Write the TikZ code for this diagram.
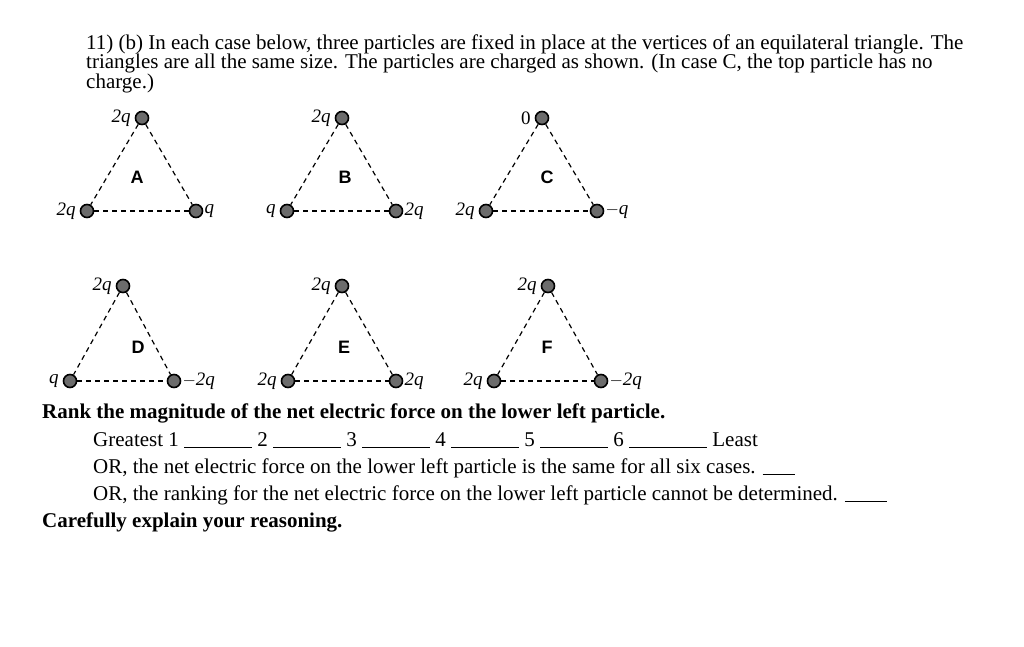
\documentclass[tikz,border=0pt]{standalone}
\usepackage{fontspec}
\setmainfont{Liberation Serif}
\setsansfont{Liberation Sans}
\begin{document}
\begin{tikzpicture}[x=1pt,y=-1pt,
  txt/.style={anchor=base west,inner sep=0pt,font=\fontsize{21}{20}\selectfont},
  chg/.style={inner sep=1pt,font=\fontsize{19}{19}\selectfont\itshape},
  lab/.style={font=\fontsize{18}{18}\selectfont\sffamily\bfseries},
  pt/.style={circle,draw=black,fill=gray!85!black,minimum size=13pt,inner sep=0pt,line width=1.6pt},
  edge/.style={line width=1.2pt,dash pattern=on 5pt off 4pt}]
\useasboundingbox (0,0) rectangle (1024,647);
\newcommand{\blank}[1]{\rule[-2pt]{#1pt}{1pt}}
\node[txt] (h1) at (86,50) {11) (b) In each case below, three particles are fixed in place at the vertices of an equilateral triangle. The};
\node[txt] (h2) at (86,69) {triangles are all the same size. The particles are charged as shown. (In case C, the top particle has no};
\node[txt] (h3) at (86,89) {charge.)};
\foreach \n/\tx/\ty/\lx/\rx/\by/\tl/\ll/\rl in {
 A/142/118/87/196/211/2q/2q/q,
 B/342/118/287/396/211/2q/q/2q,
 C/542/118/486/597/211/\upshape 0/2q/$-$q,
 D/123/286/70/174/381/2q/q/$-$2q,
 E/342/286/288/396/381/2q/2q/2q,
 F/548/286/494/601/381/2q/2q/$-$2q}{
  \node[pt] (\n t) at (\tx,\ty) {};
  \node[pt] (\n l) at (\lx,\by) {};
  \node[pt] (\n r) at (\rx,\by) {};
  \draw[edge] (\n t) -- (\n l);
  \draw[edge] (\n t) -- (\n r);
  \draw[edge] (\n l) -- (\n r);
  \node[chg,anchor=east] at ([xshift=-3pt]\n t.west) {\tl};
  \node[chg,anchor=east] at ([xshift=-3pt]\n l.west) {\ll};
  \node[chg,anchor=west] at (\n r.east) {\rl};
}
\node[lab] (LA) at (137,177) {A};
\node[lab] (LB) at (345,177) {B};
\node[lab] (LC) at (547,177) {C};
\node[lab] (LD) at (138,347) {D};
\node[lab] (LE) at (344,347) {E};
\node[lab] (LF) at (547,347) {F};
\node[txt,font=\fontsize{21}{20}\selectfont\bfseries] (r1) at (42,418) {Rank the magnitude of the net electric force on the lower left particle.};
\node[txt] (r2) at (93,446) {Greatest 1 \blank{68} 2 \blank{68} 3 \blank{68} 4 \blank{68} 5 \blank{68} 6 \blank{78} Least};
\node[txt] (r3) at (93,473) {OR, the net electric force on the lower left particle is the same for all six cases. \blank{32}};
\node[txt] (r4) at (93,500) {OR, the ranking for the net electric force on the lower left particle cannot be determined. \blank{42}};
\node[txt,font=\fontsize{21}{20}\selectfont\bfseries] (r5) at (42,527) {Carefully explain your reasoning.};
\end{tikzpicture}
\end{document}
